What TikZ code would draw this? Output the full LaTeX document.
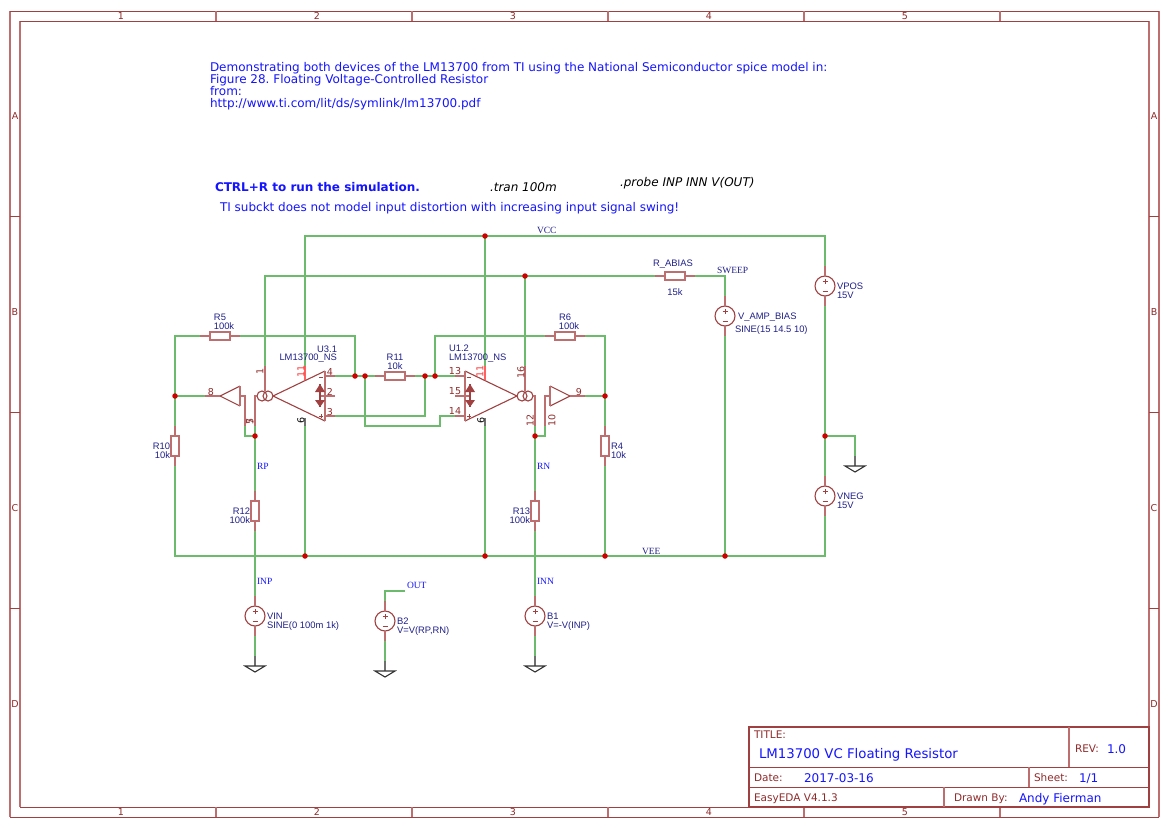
\documentclass[tikz,border=0pt]{standalone}
\usepackage{fontspec}
\setmainfont{DejaVu Sans}
\newfontfamily\arialf{Liberation Sans}
\newfontfamily\timesf{Liberation Serif}
\usetikzlibrary{calc}
\frenchspacing
\definecolor{wirec}{HTML}{6CBB6C}
\definecolor{symc}{HTML}{BE6E6E}
\definecolor{symd}{HTML}{A04040}
\definecolor{symt}{HTML}{8F2A2A}
\definecolor{navyc}{HTML}{20208A}
\definecolor{bluec}{HTML}{1414FF}
\definecolor{junc}{HTML}{D00000}
\definecolor{gndc}{HTML}{333333}
\definecolor{hotc}{HTML}{FF6060}
\definecolor{grayc}{HTML}{707070}
\tikzset{
  wire/.style={draw=wirec,line width=1.6pt},
  sym/.style={draw=symc,line width=1.6pt},
  symline/.style={draw=symd,line width=1.1pt},
  hot/.style={draw=hotc,line width=1.6pt},
  graylead/.style={draw=grayc,line width=1.6pt},
  dark/.style={draw=gndc,line width=1.1pt},
  framev/.style={draw=symc,line width=1.6pt},
  frameh/.style={draw=symd,line width=1pt},
  junction/.style={circle,fill=junc,inner sep=0pt,minimum size=5.5pt},
  resbody/.style={rectangle,draw=symc,line width=1.6pt,inner sep=0pt,outer sep=0pt},
  srcbody/.style={circle,draw=symd,line width=1.1pt,inner sep=0pt,outer sep=0pt,minimum size=20pt},
  txt/.style={inner sep=0pt,outer sep=0pt},
  clab/.style={txt,font=\arialf\fontsize{9.4}{10}\selectfont,text=navyc,anchor=base west,yshift=-3.4pt},
  clabc/.style={clab,anchor=base},
  clabe/.style={clab,anchor=base east},
  netn/.style={txt,font=\timesf\fontsize{9.5}{10}\selectfont,text=navyc,anchor=base west,yshift=-3pt},
  netb/.style={netn,text=bluec},
  pinl/.style={txt,font=\fontsize{9.5}{10}\selectfont,text=symt,anchor=center},
  framel/.style={txt,font=\fontsize{9.5}{10}\selectfont,text=symt,anchor=center},
  tbl/.style={txt,font=\fontsize{10.5}{11}\selectfont,text=symt,anchor=base west,yshift=-3.8pt},
  tbv/.style={txt,font=\fontsize{12}{13}\selectfont,text=bluec,anchor=base west,yshift=-4.3pt},
  note/.style={txt,font=\fontsize{12}{12}\selectfont,text=bluec,anchor=base west,yshift=-4.3pt},
}
\newcommand{\hres}[3]{%
  \node[resbody,minimum width=20pt,minimum height=8pt] (#1) at (#2,#3) {};
  \coordinate (#1-a) at ([xshift=-10pt]#1.west);
  \coordinate (#1-b) at ([xshift=10pt]#1.east);
  \draw[sym] (#1-a) -- (#1.west) (#1.east) -- (#1-b);}
\newcommand{\vres}[3]{%
  \node[resbody,minimum width=8pt,minimum height=20pt] (#1) at (#2,#3) {};
  \coordinate (#1-a) at ([yshift=10pt]#1.north);
  \coordinate (#1-b) at ([yshift=-10pt]#1.south);
  \draw[sym] (#1-a) -- (#1.north) (#1.south) -- (#1-b);}
\newcommand{\vsrc}[3]{%
  \node[srcbody] (#1) at (#2,#3) {};
  \coordinate (#1-a) at ([yshift=10pt]#1.north);
  \coordinate (#1-b) at ([yshift=-10pt]#1.south);
  \draw[sym] (#1-a) -- (#1.north) (#1.south) -- (#1-b);
  \draw[symline,line width=.9pt] ([yshift=5pt]#1.center) ++(-2.5pt,0pt) -- ++(5pt,0pt)
    ([yshift=5pt]#1.center) ++(0pt,-2.5pt) -- ++(0pt,5pt)
    ([yshift=-5pt]#1.center) ++(-2.5pt,0pt) -- ++(5pt,0pt);}
\newcommand{\gnd}[3]{%
  \coordinate (#1) at (#2,#3);
  \draw[graylead] (#1) -- ++(0,10);
  \draw[dark] (#1) ++(-10,10) -- ++(20,0) -- ++(-10,6) -- cycle;}
\begin{document}
\begin{tikzpicture}[x=1pt,y=-1pt]
\useasboundingbox (0,0) rectangle (1169,828);
% sheet frame
\draw[framev] (10,11) -- (10,817) (20,21) -- (20,807) (1149,21) -- (1149,807) (1159,11) -- (1159,817);
\draw[frameh] (10,11) -- (1159,11) (20,21) -- (1149,21) (20,807) -- (1149,807) (10,817) -- (1159,817);
\foreach \vx in {216,412,608,804,1000} {
  \draw[framev] (\vx,11) -- (\vx,21);
  \draw[framev] (\vx,807) -- (\vx,817);
}
\foreach \vy in {216,412,608} {
  \draw[frameh] (10,\vy) -- (20,\vy);
  \draw[frameh] (1149,\vy) -- (1159,\vy);
}
\foreach \vn/\vx in {1/121,2/317,3/513,4/709,5/905} {
  \node[framel] (coltop\vn) at (\vx,16) {\vn};
  \node[framel] (colbot\vn) at (\vx,812) {\vn};
}
\foreach \vn/\vy in {A/116,B/312,C/508,D/704} {
  \node[framel] (rowl\vn) at (15,\vy) {\vn};
  \node[framel] (rowr\vn) at (1154,\vy) {\vn};
}
% title block
\draw[frameh,line width=1.4pt] (749,727) rectangle (1149,807);
\draw[frameh] (749,767) -- (1149,767) (749,787) -- (1149,787);
\draw[framev] (1069,727) -- (1069,767) (1029,767) -- (1029,787) (944,787) -- (944,807);
\node[tbl] (tbTitle) at (754,735) {TITLE:};
\node[tbv,font=\fontsize{13.3}{15}\selectfont,yshift=-1pt] (tbName) at (759,753) {LM13700 VC Floating Resistor};
\node[tbl] (tbRev) at (1075,749) {REV:};
\node[tbv] (tbRevV) at (1107,749) {1.0};
\node[tbl] (tbDate) at (754,778) {Date:};
\node[tbv] (tbDateV) at (804,778) {2017-03-16};
\node[tbl] (tbSheet) at (1034,778) {Sheet:};
\node[tbv] (tbSheetV) at (1079,778) {1/1};
\node[tbl] (tbEda) at (754,798) {EasyEDA V4.1.3};
\node[tbl] (tbBy) at (954,798) {Drawn By:};
\node[tbv] (tbByV) at (1019,798) {Andy Fierman};
% notes
\node[txt,font=\fontsize{12}{12}\selectfont,text=bluec,align=left,anchor=north west] (notetop) at (210,62)
  {Demonstrating both devices of the LM13700 from TI using the National Semiconductor spice model in:\\
   Figure 28. Floating Voltage-Controlled Resistor\\ from:\\ http://www.ti.com/lit/ds/symlink/lm13700.pdf};
\node[note,font=\bfseries\fontsize{12}{12}\selectfont] (noteCtrl) at (215,187) {CTRL+R to run the simulation.};
\node[note,text=black,font=\itshape\fontsize{12}{12}\selectfont] (noteTran) at (490,187) {.tran 100m};
\node[note,text=black,font=\itshape\fontsize{12}{12}\selectfont] (noteProbe) at (620,182) {.probe INP INN V(OUT)};
\node[note] (noteTi) at (220,207) {TI subckt does not model input distortion with increasing input signal swing!};
% net points
\coordinate (jVccA) at (485,236);
\coordinate (vccL) at (305,236);
\coordinate (vccR) at (825,236);
\coordinate (jSw) at (525,276);
\coordinate (swL) at (265,276);
\coordinate (jFb) at (175,396);
\coordinate (jFbR) at (605,396);
\coordinate (jGndM) at (825,436);
\coordinate (jA) at (355,376);
\coordinate (jB) at (365,376);
\coordinate (jC) at (425,376);
\coordinate (jD) at (435,376);
\coordinate (jP) at (255,436);
\coordinate (jN) at (535,436);
\coordinate (jE1) at (305,556);
\coordinate (jE2) at (485,556);
\coordinate (jE3) at (605,556);
\coordinate (jE4) at (725,556);
\coordinate (veeL) at (175,556);
\coordinate (veeR) at (825,556);
\coordinate (outEnd) at (405,591);
% U3 pins
\coordinate (u3p1) at (265,366);
\coordinate (u3p1i) at (265,391);
\coordinate (u3p2) at (335,396);
\coordinate (u3p3) at (335,416);
\coordinate (u3p4) at (335,376);
\coordinate (u3p5) at (255,426);
\coordinate (u3p6) at (305,426);
\coordinate (u3p7) at (245,426);
\coordinate (u3p8) at (205,396);
\coordinate (u3p11) at (305,366);
% U1 pins
\coordinate (u1p16) at (525,366);
\coordinate (u1p16i) at (525,391);
\coordinate (u1p15) at (455,396);
\coordinate (u1p14) at (455,416);
\coordinate (u1p13) at (455,376);
\coordinate (u1p12) at (535,426);
\coordinate (u1p6) at (485,426);
\coordinate (u1p10) at (545,426);
\coordinate (u1p9) at (585,396);
\coordinate (u1p11) at (485,366);
% parts
\hres{R5}{220}{336}
\hres{R6}{565}{336}
\hres{R11}{395}{376}
\hres{RABIAS}{675}{276}
\vres{R10}{175}{446}
\vres{R4}{605}{446}
\vres{R12}{255}{511}
\vres{R13}{535}{511}
\vsrc{VAB}{725}{316}
\vsrc{VPOS}{825}{286}
\vsrc{VNEG}{825}{496}
\vsrc{VIN}{255}{616}
\vsrc{B2}{385}{621}
\vsrc{B1}{535}{616}
\gnd{gMain}{855}{456}
\gnd{gVin}{255}{656}
\gnd{gB2}{385}{661}
\gnd{gB1}{535}{656}
% wires
\draw[wire] (u3p11) -- (vccL) -- (vccR) -- (VPOS-a);
\draw[wire] (jVccA) -- (u1p11);
\draw[wire] (u3p1) -- (swL) -- (RABIAS-a);
\draw[wire] (jSw) -- (u1p16);
\draw[wire] (RABIAS-b) -| (VAB-a);
\draw[wire] (VAB-b) -- (jE4);
\draw[wire] (VPOS-b) -- (VNEG-a);
\draw[wire] (jGndM) -| (gMain);
\draw[wire] (VNEG-b) -- (veeR) -- (veeL) -- (R10-b);
\draw[wire] (R10-a) -- (175,336) -- (R5-a);
\draw[wire] (jFb) -- (u3p8);
\draw[wire] (R5-b) -- (355,336) -- (jA);
\draw[wire] (u3p4) -- (R11-a);
\draw[wire] (R11-b) -- (u1p13);
\draw[wire] (jB) -- (365,426) -- (440,426) -- (440,416) -- (u1p14);
\draw[wire] (u3p3) -- (425,416) -- (jC);
\draw[wire] (jD) -- (435,336) -- (R6-a);
\draw[wire] (R6-b) -- (605,336) -- (R4-a);
\draw[wire] (R4-b) -- (jE3);
\draw[wire] (jFbR) -- (u1p9);
\draw[wire] (u3p5) -- (R12-a);
\draw[wire] (u3p7) |- (jP);
\draw[wire] (u1p12) -- (R13-a);
\draw[wire] (u1p10) |- (jN);
\draw[wire] (R12-b) -- (VIN-a);
\draw[wire] (R13-b) -- (B1-a);
\draw[wire] (VIN-b) -- (gVin);
\draw[wire] (B1-b) -- (gB1);
\draw[wire] (B2-b) -- (gB2);
\draw[wire] (B2-a) |- (outEnd);
\draw[wire] (u3p6) -- (jE1);
\draw[wire] (u1p6) -- (jE2);
% U3 symbol
\draw[symline] (325,371) -- (273,396) -- (325,421);
\draw[sym] (325,371) -- (325,421);
\draw[symline] (262,396) circle[radius=5pt] (268,396) circle[radius=5pt];
\draw[sym] (u3p1) -- (u3p1i);
\draw[sym] (u3p4) -- (325,376) (u3p3) -- (325,416) (u3p2) -- (320,396);
\draw[symline] (320,384) -- (320,407);
\fill[symd] (320,384) -- (315,392) -- (325,392) -- cycle (320,407) -- (315,400) -- (325,400) -- cycle;
\draw[sym] (u3p5) -- (255,396) -- (257,396);
\draw[symline] (220,396) -- (240,386);
\draw[symline] (220,396) -- (240,406);
\draw[sym] (240,386) -- (240,406);
\draw[sym] (u3p8) -- (220,396);
\draw[sym] (240,396) -- (245,396) -- (u3p7);
\draw[hot] (u3p11) -- (305,380);
\draw[graylead] (305,418) -- (u3p6);
\draw[symline,line width=.9pt] (319,377) -- (323,377) (319,416) -- (323,416) (321,414) -- (321,418);
% U1 symbol
\draw[symline] (465,371) -- (517,396) -- (465,421);
\draw[sym] (465,371) -- (465,421);
\draw[symline] (522,396) circle[radius=5pt] (528,396) circle[radius=5pt];
\draw[sym] (u1p16) -- (u1p16i);
\draw[sym] (u1p13) -- (465,376) (u1p14) -- (465,416) (u1p15) -- (470,396);
\draw[symline] (470,384) -- (470,407);
\fill[symd] (470,384) -- (465,392) -- (475,392) -- cycle (470,407) -- (465,400) -- (475,400) -- cycle;
\draw[sym] (533,396) -- (535,396) -- (u1p12);
\draw[symline] (570,396) -- (550,386);
\draw[symline] (570,396) -- (550,406);
\draw[sym] (550,386) -- (550,406);
\draw[sym] (570,396) -- (u1p9);
\draw[sym] (550,396) -- (545,396) -- (u1p10);
\draw[hot] (u1p11) -- (485,380);
\draw[graylead] (485,418) -- (u1p6);
\draw[symline,line width=.9pt] (467,377) -- (471,377) (467,416) -- (471,416) (469,414) -- (469,418);
% pin numbers
\node[pinl,rotate=90] (pn1) at (260,371) {1};
\node[pinl,text=red!80!white,rotate=90] (pn11a) at (301,371) {11};
\node[pinl,text=black,rotate=90] (pn6a) at (301,420) {6};
\node[pinl] (pn4) at (330,372) {4};
\node[pinl] (pn2) at (330,392) {2};
\node[pinl] (pn3) at (330,412) {3};
\node[pinl] (pn8) at (211,392) {8};
\node[pinl,rotate=90] (pn5) at (250,421) {5};
\node[pinl,rotate=90] (pn7) at (250,421) {7};
\node[pinl,text=red!80!white,rotate=90] (pn11b) at (480,371) {11};
\node[pinl,text=black,rotate=90] (pn6b) at (481,420) {6};
\node[pinl] (pn13) at (455,371) {13};
\node[pinl] (pn15) at (455,391) {15};
\node[pinl] (pn14) at (455,411) {14};
\node[pinl,rotate=90] (pn16) at (521,372) {16};
\node[pinl,rotate=90] (pn12) at (530,420) {12};
\node[pinl,rotate=90] (pn10) at (552,420) {10};
\node[pinl] (pn9) at (579,392) {9};
% junctions
\foreach \vj in {jVccA,jSw,jFb,jFbR,jGndM,jA,jB,jC,jD,jP,jN,jE1,jE2,jE3,jE4}
  \node[junction] (dot\vj) at (\vj) {};
% component labels
\node[clabc] (lR5) at (220,317) {R5};
\node[clabc] (lR5v) at (224,326) {100k};
\node[clabc] (lR6) at (565,317) {R6};
\node[clabc] (lR6v) at (569,326) {100k};
\node[clabc] (lR11) at (395,357) {R11};
\node[clabc] (lR11v) at (395,366) {10k};
\node[clabe] (lU3) at (337,349) {U3.1};
\node[clabe] (lU3v) at (337,357) {LM13700\_NS};
\node[clab] (lU1) at (449,348) {U1.2};
\node[clab] (lU1v) at (449,357) {LM13700\_NS};
\node[clabe] (lR10) at (170,446) {R10};
\node[clabe] (lR10v) at (170,455) {10k};
\node[clab] (lR4) at (611,446) {R4};
\node[clab] (lR4v) at (611,455) {10k};
\node[clabe] (lR12) at (250,511) {R12};
\node[clabe] (lR12v) at (250,520) {100k};
\node[clabe] (lR13) at (530,511) {R13};
\node[clabe] (lR13v) at (530,520) {100k};
\node[clabc] (lAb) at (673,263) {R\_ABIAS};
\node[clabc] (lAbv) at (675,292) {15k};
\node[clab] (lVab) at (738,316) {V\_AMP\_BIAS};
\node[clab] (lVabv) at (735,329) {SINE(15 14.5 10)};
\node[clab] (lVp) at (837,286) {VPOS};
\node[clab] (lVpv) at (837,295) {15V};
\node[clab] (lVn) at (837,496) {VNEG};
\node[clab] (lVnv) at (837,505) {15V};
\node[clab] (lVin) at (267,616) {VIN};
\node[clab] (lVinv) at (267,625) {SINE(0 100m 1k)};
\node[clab] (lB2) at (397,621) {B2};
\node[clab] (lB2v) at (397,630) {V=V(RP,RN)};
\node[clab] (lB1) at (547,616) {B1};
\node[clab] (lB1v) at (547,625) {V=-V(INP)};
% net labels
\node[netn] (nVcc) at (537,230) {VCC};
\node[netn] (nVee) at (642,551) {VEE};
\node[netn] (nSw) at (717,270) {SWEEP};
\node[netb] (nRp) at (257,466) {RP};
\node[netb] (nRn) at (537,466) {RN};
\node[netb] (nInp) at (257,581) {INP};
\node[netb] (nInn) at (537,581) {INN};
\node[netb] (nOut) at (407,585) {OUT};
\end{tikzpicture}
\end{document}
